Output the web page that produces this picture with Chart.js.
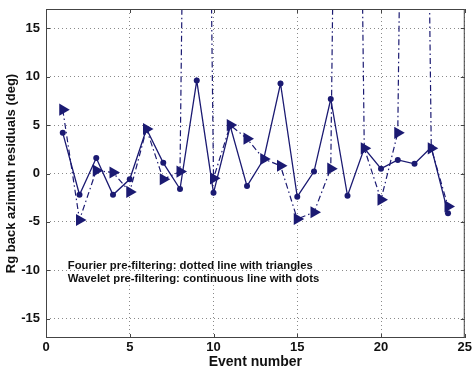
<!DOCTYPE html>
<html>
<head>
<meta charset="utf-8">
<script src="https://cdn.jsdelivr.net/npm/chart.js@4/dist/chart.umd.min.js"></script>
<style>
  html, body { margin: 0; padding: 0; background: #fff; }
  #wrap { width: 474px; height: 371px; }
</style>
</head>
<body>
<div id="wrap"><canvas id="c" width="474" height="371"></canvas></div>
<script>
(function(){
  'use strict';

  // event numbers
  var events = [1,2,3,4,5,6,7,8,9,10,11,12,13,14,15,16,17,18,19,20,21,22,23,24];
  // wavelet pre-filtering (continuous line with dots)
  var wavelet = [4.2,-2.2,1.6,-2.2,-0.6,4.6,1.1,-1.6,9.6,-2.0,4.9,-1.3,1.5,9.3,-2.4,0.2,7.7,-2.3,2.6,0.5,1.4,1.0,2.7,-4.1];
  // fourier pre-filtering (dotted line with triangles); 9, 18, 22 run far off the top
  var fourier = [6.6,-4.8,0.3,0.1,-1.9,4.6,-0.6,0.2,150,-0.5,5.0,3.6,1.5,0.8,-4.7,-4.0,0.5,150,2.6,-2.7,4.2,150,2.6,-3.4];
  var xTicks = [0,5,10,15,20,25];
  var yTicks = [-15,-10,-5,0,5,10,15];
  var notes = ['Fourier pre-filtering: dotted line with triangles', 'Wavelet pre-filtering: continuous line with dots'];

  var NAVY = '#1b1a72';
  var FONT = '"Liberation Sans", Arial, sans-serif';

  function pts(vals){ return events.map(function(e, i){ return {x: e, y: vals[i]}; }); }

  // box, inward ticks and the text note
  var frame = {
    id: 'frame',
    afterDatasetsDraw: function(chart){
      var a = chart.chartArea, ctx = chart.ctx;
      var sx = chart.scales.x, sy = chart.scales.y;
      ctx.save();
      ctx.strokeStyle = '#444';
      ctx.lineWidth = 1;
      ctx.strokeRect(a.left + 0.5, a.top + 0.5, a.right - a.left - 1, a.bottom - a.top - 1);
      ctx.beginPath();
      xTicks.forEach(function(v){
        var px = Math.round(sx.getPixelForValue(v)) + 0.5;
        ctx.moveTo(px, a.bottom); ctx.lineTo(px, a.bottom - 4);
        ctx.moveTo(px, a.top); ctx.lineTo(px, a.top + 4);
      });
      yTicks.forEach(function(v){
        var py = Math.round(sy.getPixelForValue(v)) + 0.5;
        ctx.moveTo(a.left, py); ctx.lineTo(a.left + 4, py);
        ctx.moveTo(a.right, py); ctx.lineTo(a.right - 4, py);
      });
      ctx.stroke();

      ctx.fillStyle = '#111';
      ctx.font = 'bold 11px ' + FONT;
      ctx.textBaseline = 'middle';
      var x0 = sx.getPixelForValue(1.3);
      var w = ctx.measureText(notes[0]).width;
      var k = 245 / w;
      ctx.translate(x0, 0);
      ctx.scale(k, 1);
      ctx.fillText(notes[0], 0, sy.getPixelForValue(-9.6));
      ctx.fillText(notes[1], 0, sy.getPixelForValue(-10.95));
      ctx.restore();
    }
  };

  new Chart(document.getElementById('c').getContext('2d'), {
    type: 'scatter',
    data: {
      datasets: [
        {
          label: 'Fourier',
          data: pts(fourier),
          showLine: true,
          borderColor: NAVY,
          backgroundColor: NAVY,
          borderWidth: 1.2,
          borderDash: [6,3,1.5,3],
          pointStyle: 'triangle',
          rotation: 90,
          pointRadius: 7,
          pointBorderWidth: 0,
          pointHoverRadius: 7
        },
        {
          label: 'Wavelet',
          data: pts(wavelet),
          showLine: true,
          borderColor: NAVY,
          backgroundColor: NAVY,
          borderWidth: 1.3,
          pointStyle: 'circle',
          pointRadius: 3,
          pointBorderWidth: 0,
          pointHoverRadius: 3
        }
      ]
    },
    options: {
      responsive: false,
      animation: false,
      layout: { padding: { top: 9, right: 9, left: 0, bottom: 0 } },
      plugins: { legend: { display: false }, tooltip: { enabled: false } },
      scales: {
        x: {
          type: 'linear', min: 0, max: 25,
          afterBuildTicks: function(s){ s.ticks = xTicks.map(function(v){ return {value: v}; }); },
          afterFit: function(s){ s.height = 33; },
          grid: { color: '#8a8a8a', lineWidth: 1, drawTicks: false },
          border: { display: false, dash: [1,3] },
          ticks: { color: '#111', font: { family: FONT, size: 13, weight: 'bold' }, padding: 2, maxRotation: 0 },
          title: { display: true, text: 'Event number', color: '#111', font: { family: FONT, size: 14, weight: 'bold' }, padding: { top: 0, bottom: 0 } }
        },
        y: {
          type: 'linear', min: -17, max: 17,
          afterBuildTicks: function(s){ s.ticks = yTicks.map(function(v){ return {value: v}; }); },
          afterFit: function(s){ s.width = 46; s.paddingTop = 0; s.paddingBottom = 0; },
          grid: { color: '#8a8a8a', lineWidth: 1, drawTicks: false },
          border: { display: false, dash: [1,3] },
          ticks: { color: '#111', font: { family: FONT, size: 13, weight: 'bold' }, padding: 6 },
          title: { display: true, text: 'Rg back azimuth residuals (deg)', color: '#111', font: { family: FONT, size: 13, weight: 'bold' }, padding: { top: 4, bottom: 0 } }
        }
      }
    },
    plugins: [frame]
  });
})();
</script>
</body>
</html>
